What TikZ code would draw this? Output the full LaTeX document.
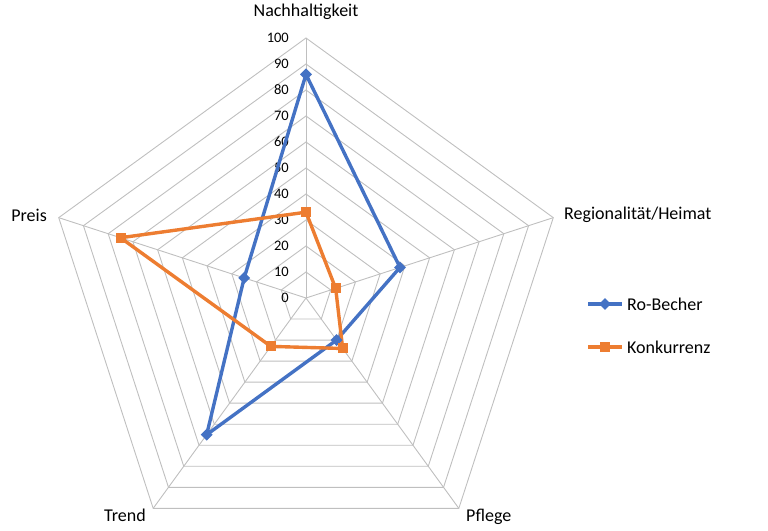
\documentclass[tikz,border=0pt]{standalone}
\usepackage{fontspec}
\setmainfont{Carlito}
\usetikzlibrary{calc,shapes.geometric}
\definecolor{rb}{HTML}{4472C4}
\definecolor{ko}{HTML}{ED7D31}
\definecolor{grid}{HTML}{BFBFBF}
\begin{document}
\begin{tikzpicture}[x=1pt,y=-1pt,
  gridline/.style={grid,line width=0.9pt},
  ser/.style={line width=3.4pt,line join=round},
  dia/.style={diamond,fill=rb,inner sep=0pt,minimum size=12pt},
  sq/.style={rectangle,fill=ko,inner sep=0pt,minimum size=10pt},
  lab/.style={font=\fontsize{18}{21}\selectfont,inner sep=1pt},
  tick/.style={font=\fontsize{14.5}{16}\selectfont,anchor=east,inner sep=0pt}]
\useasboundingbox (0,0) rectangle (768,530);
\coordinate (c) at (306,298);
% grid
\foreach \k in {1,...,10}{
  \pgfmathsetmacro{\r}{26*\k}
  \draw[gridline] ($(c)+({\r*cos(90)},{-\r*sin(90)})$) -- ($(c)+({\r*cos(18)},{-\r*sin(18)})$) -- ($(c)+({\r*cos(-54)},{-\r*sin(-54)})$) -- ($(c)+({\r*cos(-126)},{-\r*sin(-126)})$) -- ($(c)+({\r*cos(162)},{-\r*sin(162)})$) -- cycle;
}
\foreach \a/\n in {90/A,18/B,-54/C,-126/D,162/E}{
  \coordinate (o\n) at ($(c)+({260*cos(\a)},{-260*sin(\a)})$);
  \draw[gridline] (c) -- (o\n);
}
% ticks
\foreach \k in {0,...,10}{
  \pgfmathtruncatemacro{\v}{10*\k}
  \node[tick] (tk\k) at (289,{298-26*\k}) {\v};
}
% axis labels
\node[lab,anchor=south] (lA) at (306,21) {Nachhaltigkeit};
\node[lab,anchor=west] (lB) at (563,215) {Regionalität/Heimat};
\node[lab,anchor=north west] (lC) at (465,508) {Pflege};
\node[lab,anchor=north east] (lD) at (147,508) {Trend};
\node[lab,anchor=east] (lE) at (48,215) {Preis};
% data
\foreach \s/\va/\vb/\vc/\vd/\ve in {R/86/38/20/65/25,K/33/12/24/23/75}{
  \coordinate (\s1) at ($(c)+({2.6*\va*cos(90)},{-2.6*\va*sin(90)})$);
  \coordinate (\s2) at ($(c)+({2.6*\vb*cos(18)},{-2.6*\vb*sin(18)})$);
  \coordinate (\s3) at ($(c)+({2.6*\vc*cos(-54)},{-2.6*\vc*sin(-54)})$);
  \coordinate (\s4) at ($(c)+({2.6*\vd*cos(-126)},{-2.6*\vd*sin(-126)})$);
  \coordinate (\s5) at ($(c)+({2.6*\ve*cos(162)},{-2.6*\ve*sin(162)})$);
}
\draw[ser,rb] (R1)--(R2)--(R3)--(R4)--(R5)--cycle;
\draw[ser,ko] (K1)--(K2)--(K3)--(K4)--(K5)--cycle;
\foreach \i in {1,...,5}{
  \node[dia] (mR\i) at (R\i) {};
  \node[sq] (mK\i) at (K\i) {};
}
% legend
\coordinate (g1a) at (588,304); \coordinate (g1b) at (622,304);
\coordinate (g2a) at (588,347); \coordinate (g2b) at (622,347);
\draw[ser,rb] (g1a) -- (g1b);
\draw[ser,ko] (g2a) -- (g2b);
\node[dia] (gm1) at ($(g1a)!0.5!(g1b)$) {};
\node[sq] (gm2) at ($(g2a)!0.5!(g2b)$) {};
\node[lab,anchor=west] (gl1) at (626,304) {Ro-Becher};
\node[lab,anchor=west] (gl2) at (626,347) {Konkurrenz};
\end{tikzpicture}
\end{document}
